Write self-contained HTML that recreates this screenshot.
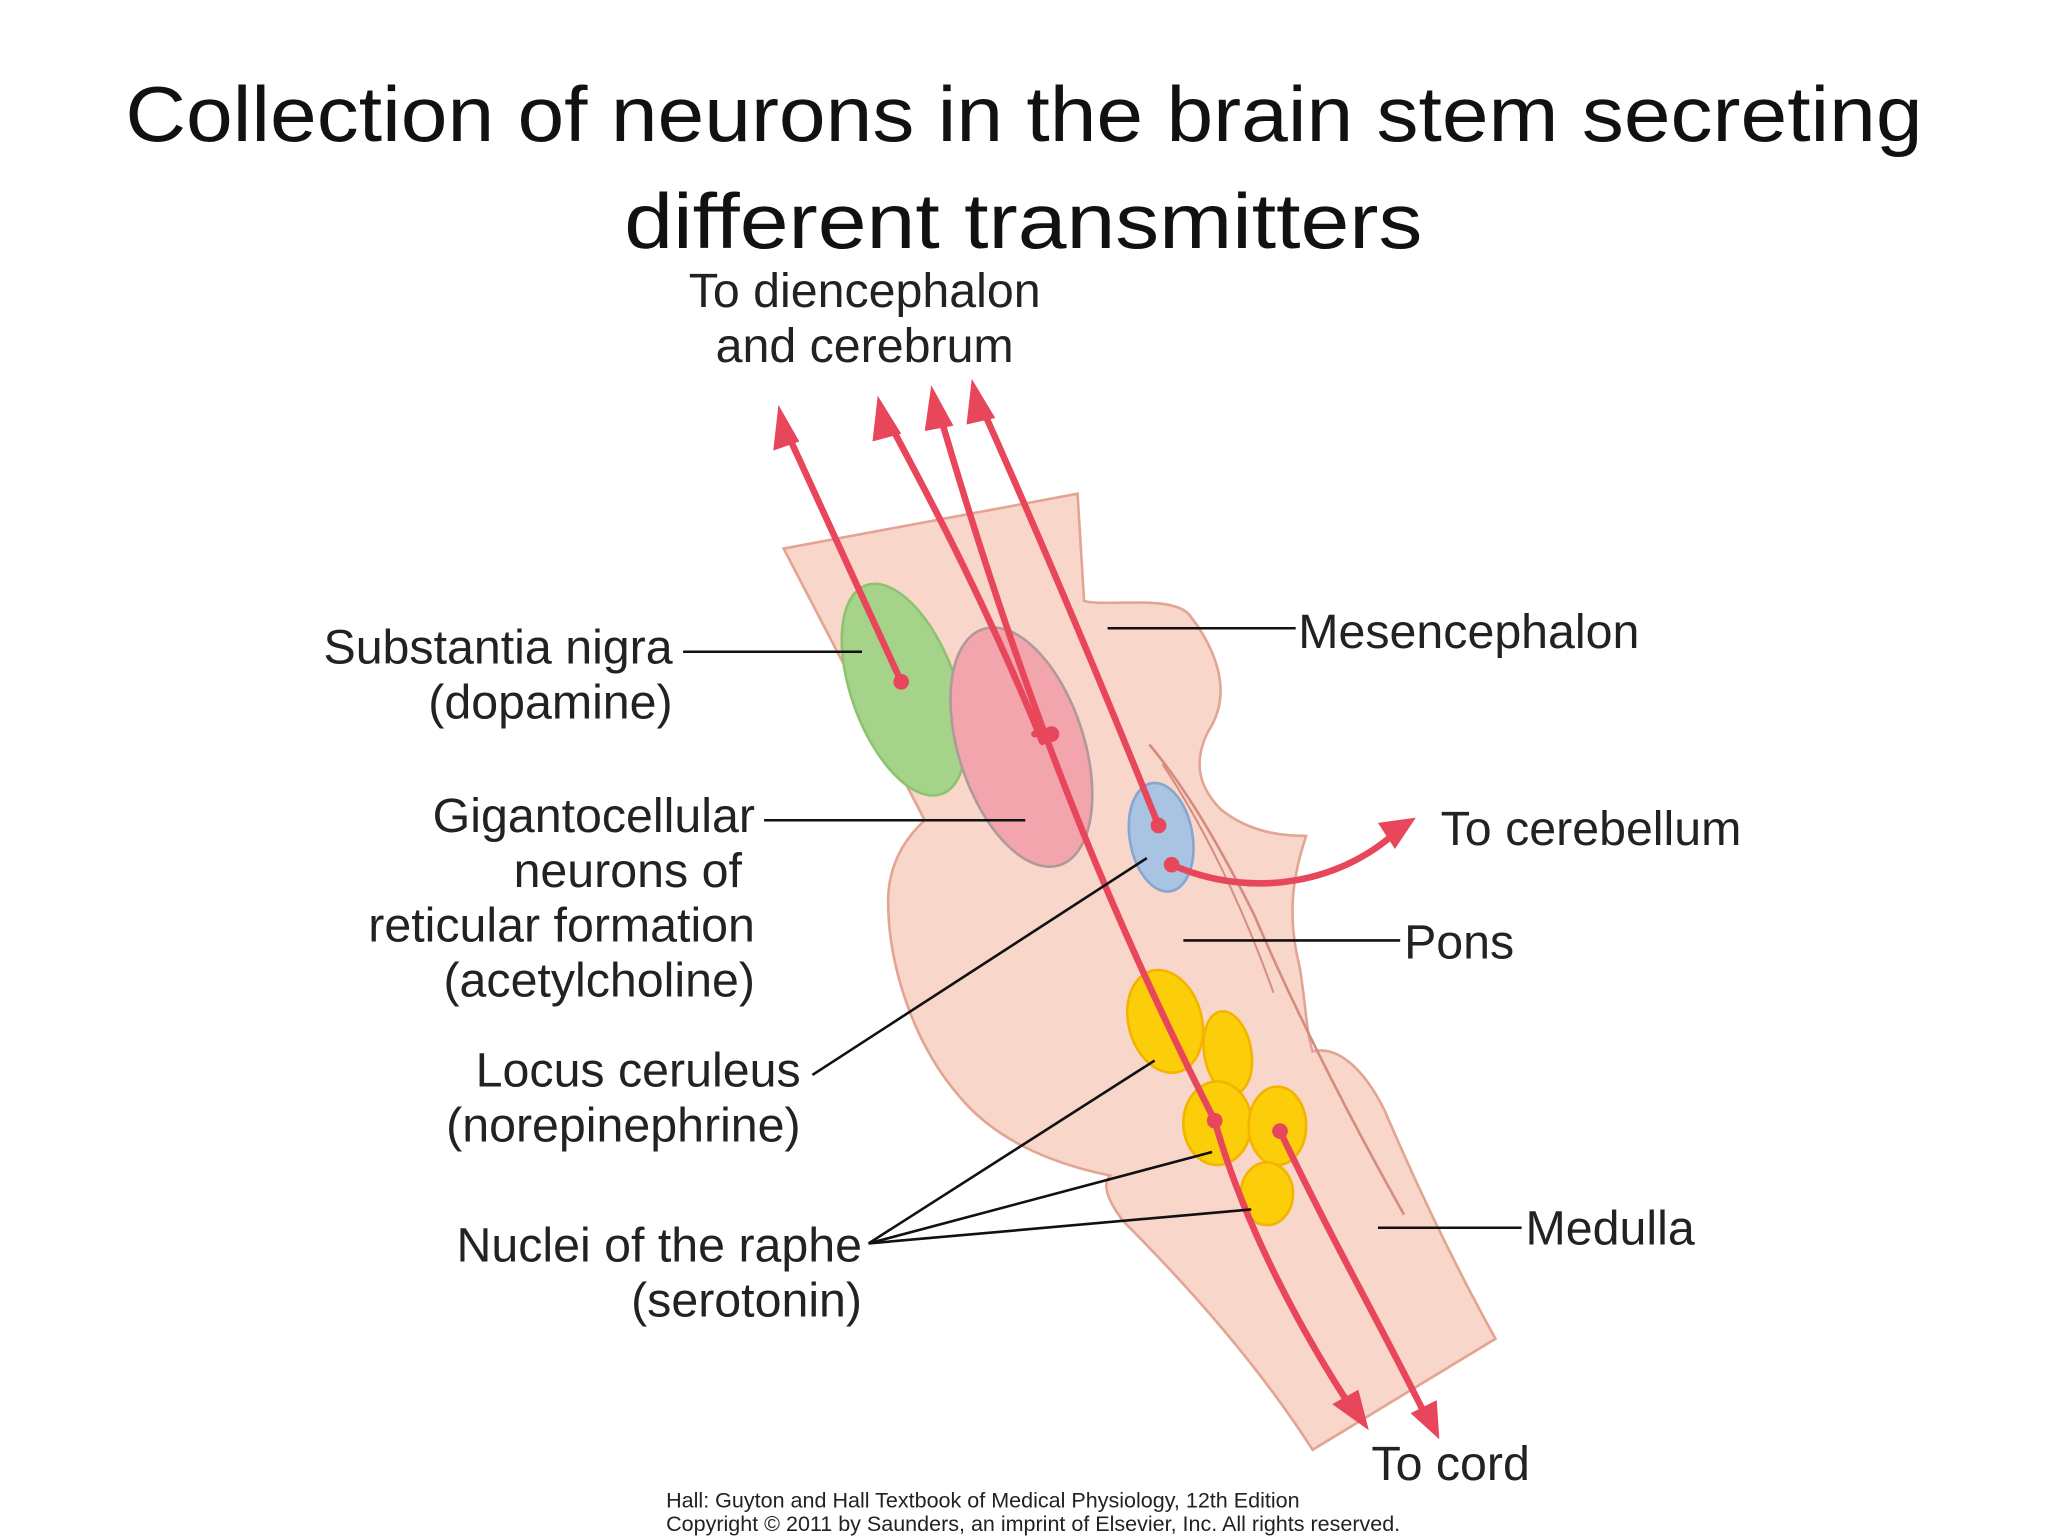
<!DOCTYPE html>
<html><head><meta charset="utf-8"><style>
html,body{margin:0;padding:0;background:#fff;}
svg{display:block;}
text{font-family:"Liberation Sans",Arial,sans-serif;fill:#222;}
</style></head><body>
<svg width="2048" height="1536" viewBox="0 0 1568 1176" xmlns="http://www.w3.org/2000/svg">
<rect width="1568" height="1176" fill="#fff"/>
<text x="96" y="108" font-size="60" textLength="1376" lengthAdjust="spacingAndGlyphs" style="fill:#111">Collection of neurons in the brain stem secreting</text>
<text x="478" y="190" font-size="60" textLength="611" lengthAdjust="spacingAndGlyphs" style="fill:#111">different transmitters</text>

<path d="M600,420 L825,378 L830,460 C845,465 895,455 910,470 C930,495 945,530 925,560 C915,580 915,600 935,620 C960,640 990,640 1000,640 C990,670 985,700 995,740 C1000,770 1000,790 1005,805 C1025,800 1045,820 1060,850 C1090,920 1120,980 1145,1025 L1005,1110 C960,1040 905,980 860,935 C845,915 845,905 850,900 C800,890 760,870 735,840 C700,800 680,740 680,690 C680,660 695,640 708,628 Z" fill="#f9d6ca" stroke="#e3a493" stroke-width="2"/>
<path d="M880,570 C905,600 930,640 960,700 C990,770 1030,850 1075,930" fill="none" stroke="#d48c7e" stroke-width="2"/>
<path d="M890,585 C920,630 950,690 975,760" fill="none" stroke="#d48c7e" stroke-width="1.5"/>

<ellipse cx="692" cy="528" rx="40" ry="85" transform="rotate(-20 692 528)" fill="#a6d38a" stroke="#8cc46e" stroke-width="2"/>
<ellipse cx="782" cy="572" rx="48" ry="95" transform="rotate(-18 782 572)" fill="#f2a5ac" stroke="#b09999" stroke-width="2"/>
<ellipse cx="889" cy="641" rx="24" ry="42" transform="rotate(-10 889 641)" fill="#a9c4e3" stroke="#86a6cf" stroke-width="2"/>
<g fill="#fcce0a" stroke="#f3b400" stroke-width="2">
<ellipse cx="892" cy="782" rx="28" ry="40" transform="rotate(-15 892 782)"/>
<ellipse cx="940" cy="806" rx="18" ry="32" transform="rotate(-10 940 806)"/>
<ellipse cx="932" cy="860" rx="26" ry="32"/>
<ellipse cx="978" cy="862" rx="22" ry="30"/>
<ellipse cx="970" cy="914" rx="20" ry="24"/>
</g>

<g fill="none" stroke="#e8465a" stroke-width="5" stroke-linecap="round">
<path d="M690,522 L602,330"/>
<path d="M805,562 L792,562 M798,568 C750,450 700,360 680,322"/>
<path d="M930,858 C860,720 790,560 718,312 M930,858 C950,930 990,1010 1036,1080"/>
<path d="M887,632 C850,540 800,420 750,308"/>
<path d="M980,866 C1020,950 1060,1020 1092,1085"/>
<path d="M897,662 C960,690 1030,675 1072,634"/>
</g>
<g fill="#e8465a">
<polygon points="596,310 592,345 612,338"/>
<polygon points="672,303 668,338 690,332"/>
<polygon points="713,295 708,330 730,326"/>
<polygon points="744,290 740,325 762,320"/>
<polygon points="1048,1095 1020,1075 1040,1064"/>
<polygon points="1102,1102 1080,1082 1100,1072"/>
<polygon points="1084,626 1055,630 1068,650"/>
<circle cx="690" cy="522" r="6"/><circle cx="805" cy="562" r="6"/>
<circle cx="887" cy="632" r="6"/><circle cx="897" cy="662" r="6"/>
<circle cx="930" cy="858" r="6"/><circle cx="980" cy="866" r="6"/>
</g>

<g stroke="#111" stroke-width="2" fill="none">
<line x1="523" y1="499" x2="660" y2="499"/>
<line x1="585" y1="628" x2="785" y2="628"/>
<line x1="622" y1="823" x2="878" y2="657"/>
<line x1="665" y1="952" x2="884" y2="812"/>
<line x1="665" y1="952" x2="928" y2="882"/>
<line x1="665" y1="952" x2="958" y2="926"/>
<line x1="848" y1="481" x2="992" y2="481"/>
<line x1="906" y1="720" x2="1072" y2="720"/>
<line x1="1055" y1="940" x2="1165" y2="940"/>
</g>

<g font-size="37">
<text x="662" y="235" text-anchor="middle">To diencephalon</text>
<text x="662" y="277" text-anchor="middle">and cerebrum</text>
<text x="515" y="508" text-anchor="end">Substantia nigra</text>
<text x="515" y="550" text-anchor="end">(dopamine)</text>
<text x="578" y="637" text-anchor="end">Gigantocellular</text>
<text x="568" y="679" text-anchor="end">neurons of</text>
<text x="578" y="721" text-anchor="end">reticular formation</text>
<text x="578" y="763" text-anchor="end">(acetylcholine)</text>
<text x="613" y="832" text-anchor="end">Locus ceruleus</text>
<text x="613" y="874" text-anchor="end">(norepinephrine)</text>
<text x="660" y="966" text-anchor="end">Nuclei of the raphe</text>
<text x="660" y="1008" text-anchor="end">(serotonin)</text>
<text x="994" y="496">Mesencephalon</text>
<text x="1103" y="647">To cerebellum</text>
<text x="1075" y="734">Pons</text>
<text x="1168" y="953">Medulla</text>
<text x="1050" y="1133">To cord</text>
</g>
<text x="510" y="1154" font-size="16" textLength="485" lengthAdjust="spacingAndGlyphs">Hall: Guyton and Hall Textbook of Medical Physiology, 12th Edition</text>
<text x="510" y="1172" font-size="16" textLength="562" lengthAdjust="spacingAndGlyphs">Copyright © 2011 by Saunders, an imprint of Elsevier, Inc. All rights reserved.</text>
</svg>
</body></html>
